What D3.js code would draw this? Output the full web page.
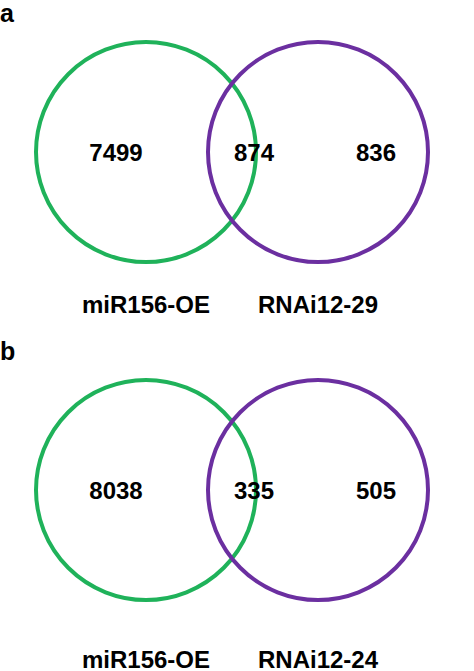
<!DOCTYPE html>
<html><head><meta charset="utf-8">
<script src="https://cdn.jsdelivr.net/npm/d3@7"></script>
<style>body{margin:0;background:#fff}</style></head>
<body><svg id="c" width="474" height="671"></svg>
<script>
const panels = ["a","b"];
const setNames = [["miR156-OE","RNAi12-29"],["miR156-OE","RNAi12-24"]];
const counts = [[7499,874,836],[8038,335,505]];
const colors = ["#1fb25a","#6b2fa0"];

const svg = d3.select("#c");
const x = d3.scaleLinear().domain([0,1]).range([146,318]);
const xr = d3.scaleLinear().domain([0,1,2]).range([116,254,376]);
const y = d3.scaleBand().domain(panels).range([0,676]);
const labelY = [313,330];
const r = 110;
const font = "Liberation Sans, Arial";

panels.forEach((p,i)=>{
  const g = svg.append("g").attr("transform",`translate(0,${y(p)})`);
  g.append("text").attr("x",0).attr("y",22).text(p)
    .attr("font-family",font).attr("font-weight","bold").attr("font-size",25);
  [0,1].forEach(k=>{
    g.append("circle").attr("cx",x(k)).attr("cy",152).attr("r",r)
      .attr("fill","none").attr("stroke",colors[k]).attr("stroke-width",4);
    g.append("text").attr("x",x(k)).attr("y",labelY[i]).attr("text-anchor","middle")
      .text(setNames[i][k]).attr("font-family",font)
      .attr("font-weight","bold").attr("font-size",24);
  });
  counts[i].forEach((v,k)=>{
    g.append("text").attr("x",xr(k)).attr("y",161).attr("text-anchor","middle")
      .text(v).attr("font-family",font)
      .attr("font-weight","bold").attr("font-size",24);
  });
});
</script></body></html>
